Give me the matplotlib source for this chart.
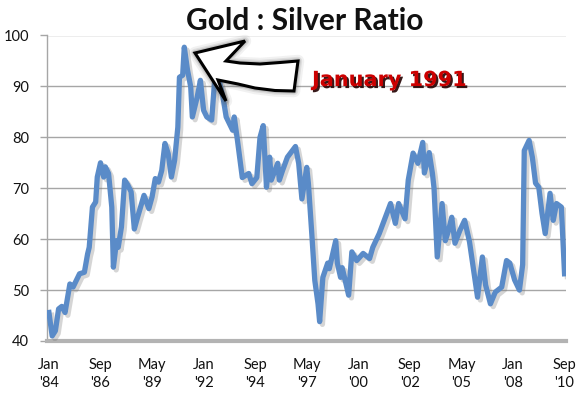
import matplotlib
matplotlib.use("Agg")
import matplotlib.pyplot as plt
import matplotlib.patheffects as pe
from matplotlib.patches import Polygon
from matplotlib.transforms import Affine2D

# ---- data (months since Jan 1984, gold:silver ratio) ----
months = [0, 2, 4, 6, 8, 10, 13, 15, 19, 22, 24, 25, 27, 29, 30, 32, 34, 35, 37, 39,
          40, 42, 43, 45, 47, 49, 51, 53, 55, 59, 62, 64, 66, 68, 70, 72, 74, 76, 78, 80,
          81, 83, 84, 86, 88, 89, 92, 94, 96, 98, 101, 103, 106, 108, 110, 114, 115, 117, 120, 124,
          126, 129, 131, 133, 135, 137, 138, 142, 143, 145, 148, 153, 155, 157, 160, 161, 163, 165, 167, 168,
          170, 173, 174, 178, 179, 181, 182, 186, 188, 191, 195, 199, 201, 205, 209, 212, 215, 217, 221, 223,
          226, 229, 232, 233, 236, 238, 239, 241, 244, 246, 248, 250, 252, 255, 258, 261, 266, 269, 271, 274,
          277, 281, 284, 286, 289, 292, 294, 295, 298, 300, 302, 304, 306, 308, 311, 313, 315, 318, 320]
ratio = [45.6, 41.0, 42.0, 46.3, 46.8, 45.6, 51.2, 50.6, 53.2, 53.5, 57.1, 58.4, 66.3, 67.3, 72.2, 75.0, 72.2, 74.2, 72.9, 66.3,
         54.5, 59.7, 58.4, 62.4, 71.6, 70.6, 69.3, 62.0, 64.3, 68.6, 66.0, 68.3, 71.9, 71.2, 73.5, 78.8, 76.8, 72.2, 75.5, 82.0,
         91.8, 92.2, 97.7, 93.2, 89.9, 84.0, 87.9, 91.2, 85.3, 84.0, 83.4, 91.8, 90.6, 87.9, 84.0, 81.4, 84.0, 79.4, 72.1, 72.9,
         70.9, 72.1, 80.0, 82.3, 70.2, 76.1, 71.6, 74.9, 71.6, 73.5, 76.1, 78.2, 74.9, 67.9, 74.1, 71.0, 61.7, 51.9, 47.3, 43.8,
         52.5, 55.3, 54.2, 59.7, 55.3, 52.5, 54.4, 49.0, 57.5, 55.8, 57.2, 56.2, 58.4, 61.1, 64.5, 67.0, 63.1, 67.0, 64.0, 71.6,
         76.9, 74.9, 79.0, 73.0, 77.0, 72.9, 70.0, 56.5, 67.0, 59.7, 61.7, 64.3, 59.2, 61.7, 63.7, 59.5, 48.6, 56.5, 51.0, 47.3,
         49.6, 50.6, 55.8, 55.3, 52.0, 50.0, 55.0, 77.4, 79.4, 76.1, 71.0, 70.2, 65.1, 61.1, 69.0, 63.7, 67.0, 66.3, 53.2]

tick_months = [0, 32, 64, 96, 128, 160, 192, 224, 256, 288, 320]
tick_labels = ["Jan\n'84", "Sep\n'86", "May\n'89", "Jan\n'92", "Sep\n'94", "May\n'97",
               "Jan\n'00", "Sep\n'02", "May\n'05", "Jan\n'08", "Sep\n'10"]
y_ticks = [40, 50, 60, 70, 80, 90, 100]

title = "Gold : Silver Ratio"
note = "January 1991"

plt.rcParams["font.family"] = ["Lato", "DejaVu Sans"]

W, H = 578, 397
fig = plt.figure(figsize=(W / 100, H / 100), dpi=100)
fig.patch.set_facecolor("white")
ax = fig.add_axes([47 / W, 1 - 341 / H, (566 - 47) / W, (341 - 35.5) / H])

line_color = "#5a8bc8"
ax.plot(months, ratio, color=line_color, lw=3.8, solid_joinstyle="round", zorder=3,
        path_effects=[pe.SimpleLineShadow(offset=(2, -2), shadow_color="#777777", alpha=0.3),
                      pe.Normal()])

ax.set_xlim(-1.2, 320.9)
ax.set_ylim(40, 100)
ax.set_yticks(y_ticks)
ax.set_xticks(tick_months)
ax.set_xticklabels(tick_labels, linespacing=1.35)
ax.yaxis.grid(True, color="#a6a6a6", lw=1.0)
ax.set_axisbelow(True)

for s in ("top", "right"):
    ax.spines[s].set_visible(False)
ax.spines["left"].set_color("#a6a6a6")
ax.spines["left"].set_linewidth(1.0)
ax.spines["bottom"].set_color("#b3b3b3")
ax.spines["bottom"].set_linewidth(3.0)

ax.tick_params(axis="y", length=5, width=1, color="#a6a6a6", labelsize=10.5, pad=8, labelcolor="#111111")
ax.tick_params(axis="x", length=0, labelsize=10.5, pad=12, labelcolor="#111111")

# title
fig.text(305 / W, 1 - 29.5 / H, title, ha="center", va="baseline",
         fontsize=21.5, fontweight="bold", color="#111111")

# annotation text
fig.text(312 / W, 1 - 86 / H, note, ha="left", va="baseline", family=["DejaVu Sans"],
         fontsize=15, fontweight="bold", color="#cc0000",
         path_effects=[pe.SimplePatchShadow(offset=(1.5, -1.5), shadow_rgbFace="#220000", alpha=0.9),
                       pe.Normal()])

# hollow curved arrow (figure pixel coordinates)
px = Affine2D().scale(1 / W, -1 / H).translate(0, 1) + fig.transFigure
arrow_pts = [(195, 53), (245, 41), (226, 61), (240, 63), (260, 64), (280, 62.5), (298, 61),
             (294, 91), (275, 90.5), (255, 88), (238, 84), (218, 80), (226, 101)]
for lw, a in ((9, 0.08), (6, 0.12), (4, 0.18)):
    fig.patches.append(Polygon(arrow_pts, closed=True, transform=px, facecolor="none",
                               edgecolor="#555555", lw=lw, alpha=a, joinstyle="round", zorder=9))
fig.patches.append(Polygon(arrow_pts, closed=True, transform=px, facecolor="white",
                           edgecolor="black", lw=2.2, joinstyle="miter", zorder=10))

fig.savefig("out.png", dpi=100)
